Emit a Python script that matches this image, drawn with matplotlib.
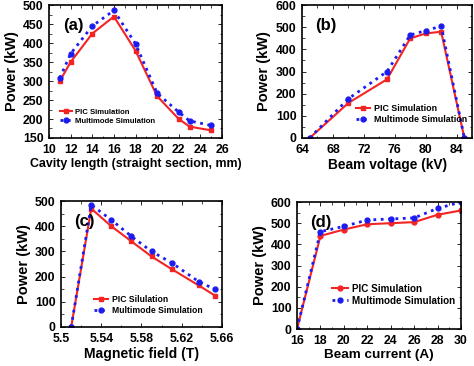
import matplotlib
matplotlib.use("Agg")
import matplotlib.pyplot as plt
from matplotlib.ticker import AutoMinorLocator

plt.rcParams['font.family'] = ['Liberation Sans', 'DejaVu Sans']
plt.rcParams['font.weight'] = 'bold'

# (a) cavity length
len_x = [11, 12, 14, 16, 18, 20, 22, 23, 25]
len_pic = [300, 350, 425, 470, 380, 260, 200, 180, 170]
len_mm = [308, 372, 445, 486, 398, 268, 218, 195, 183]

# (b) beam voltage
volt_x = [65, 70, 75, 78, 80, 82, 85]
volt_pic = [0, 158, 265, 450, 472, 480, 0]
volt_mm = [0, 177, 300, 465, 485, 505, 0]

# (c) magnetic field
field_x = [5.51, 5.53, 5.55, 5.57, 5.59, 5.61, 5.637, 5.653]
field_pic = [0, 470, 400, 340, 280, 230, 165, 125]
field_mm = [0, 485, 425, 360, 300, 255, 180, 150]

# (d) beam current
cur_x = [16, 18, 20, 22, 24, 26, 28, 30]
cur_pic = [0, 440, 470, 495, 500, 505, 540, 560]
cur_mm = [0, 460, 485, 515, 520, 525, 570, 600]

RED = '#f42424'
BLUE = '#1c1cf0'

fig = plt.figure(figsize=(4.74, 3.66), dpi=100)

panels = [
    # rect, x, pic, mm, xlim, ylim, xticks, yticks, xlabel, xlabel size, tag, pic label,
    # red marker, legend anchor, legend size
    ([0.1034, 0.623, 0.365, 0.363], len_x, len_pic, len_mm, (10, 26), (150, 500),
     range(10, 27, 2), range(150, 501, 50), 'Cavity length (straight section, mm)', 8.9, '(a)',
     'PIC Simulation', 's', (0.03, 0.06), 5.6),
    ([0.637, 0.623, 0.359, 0.363], volt_x, volt_pic, volt_mm, (64, 86), (0, 600),
     range(64, 85, 4), range(0, 601, 100), 'Beam voltage (kV)', 9.9, '(b)',
     'PIC Simulation', 's', (0.28, 0.06), 6.4),
    ([0.129, 0.1066, 0.339, 0.344], field_x, field_pic, field_mm, (5.5, 5.66), (0, 500),
     [5.5, 5.54, 5.58, 5.62, 5.66], range(0, 501, 100), 'Magnetic field (T)', 10.1, '(c)',
     'PIC Silulation', 's', (0.17, 0.05), 6.2),
    ([0.6266, 0.101, 0.346, 0.347], cur_x, cur_pic, cur_mm, (16, 30), (0, 600),
     range(16, 31, 2), range(0, 601, 100), 'Beam current (A)', 9.7, '(d)',
     'PIC Simulation', 'o', (0.17, 0.13), 7.1),
]

for (rect, x, pic, mm, xl, yl, xt, yt, xlab, xsize, tag, piclab, mk,
     anchor, lsize) in panels:
    ax = fig.add_axes(rect)
    ax.plot(x, pic, '-', color=RED, lw=1.5, marker=mk, ms=3.5, label=piclab)
    ax.plot(x, mm, ':', color=BLUE, lw=2.0, marker='o', ms=3.5, label='Multimode Simulation')
    ax.set_xlim(*xl)
    ax.set_ylim(*yl)
    ax.set_xticks(list(xt))
    ax.set_yticks(list(yt))
    if tag == '(c)':
        ax.set_xticklabels(['5.5', '5.54', '5.58', '5.62', '5.66'])
    ax.xaxis.set_minor_locator(AutoMinorLocator(2))
    ax.yaxis.set_minor_locator(AutoMinorLocator(2))
    ax.tick_params(which='both', direction='in', top=True, right=True, labelsize=8.8, pad=4)
    ax.tick_params(which='major', length=3, width=0.6)
    ax.tick_params(which='minor', length=1.8, width=0.5)
    for lbl in ax.get_xticklabels() + ax.get_yticklabels():
        lbl.set_fontweight('bold')
    for s in ax.spines.values():
        s.set_linewidth(1.2)
    ax.set_xlabel(xlab, fontsize=xsize, fontweight='bold', labelpad=2)
    ax.set_ylabel('Power (kW)', fontsize=10.5, fontweight='bold', labelpad=3)
    ax.text(0.08, 0.9, tag, transform=ax.transAxes, fontsize=12, fontweight='bold',
            ha='left', va='top')
    ax.legend(loc='lower left', bbox_to_anchor=anchor, frameon=False,
              handlelength=1.6, handletextpad=0.4, labelspacing=0.2, borderpad=0.2,
              prop={'weight': 'bold', 'size': lsize})

fig.savefig('out.png', dpi=100)
